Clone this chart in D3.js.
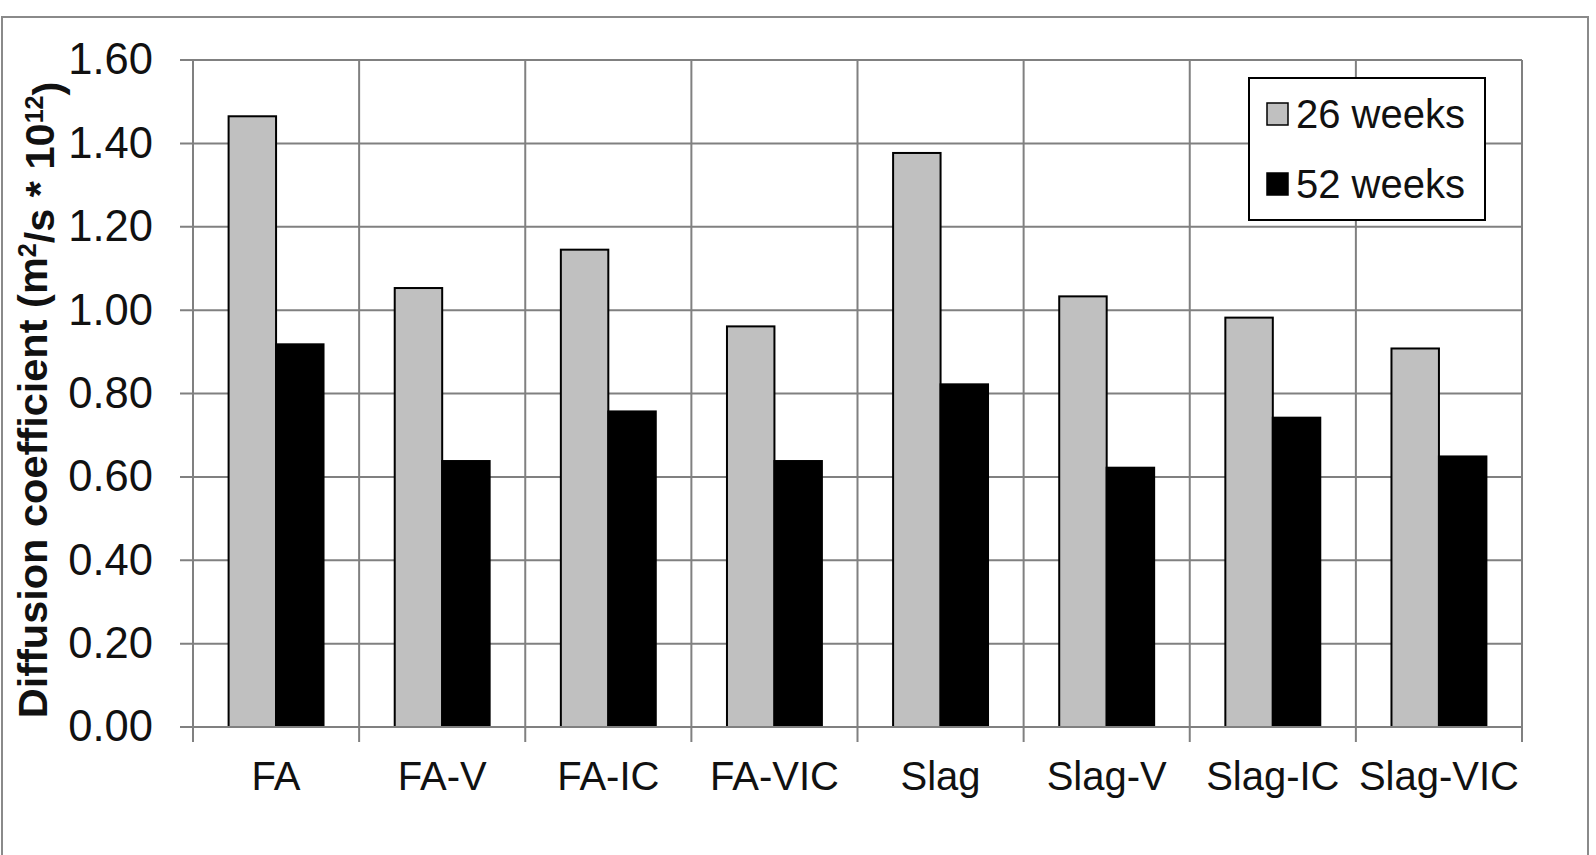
<!DOCTYPE html>
<html>
<head>
<meta charset="utf-8">
<script src="https://cdn.jsdelivr.net/npm/d3@7"></script>
<style>
  html, body { margin: 0; padding: 0; background: #fff; }
  svg { display: block; }
  text { font-family: Arial, "Liberation Sans", sans-serif; fill: #111; }
</style>
</head>
<body>
<svg id="chart" width="1596" height="855"></svg>
<script>
const categories = ["FA", "FA-V", "FA-IC", "FA-VIC", "Slag", "Slag-V", "Slag-IC", "Slag-VIC"];
const seriesNames = ["26 weeks", "52 weeks"];
const weeks26 = [1.465, 1.053, 1.145, 0.961, 1.377, 1.033, 0.982, 0.908];
const weeks52 = [0.918, 0.638, 0.757, 0.638, 0.822, 0.622, 0.742, 0.649];
const yTicks = [0, 0.2, 0.4, 0.6, 0.8, 1.0, 1.2, 1.4, 1.6];
const seriesColors = ["#c0c0c0", "#000000"];

const svg = d3.select("#chart");
const plotL = 193, plotR = 1522, plotT = 60, plotB = 727;

// outer frame
svg.append("rect").attr("x", 2).attr("y", 17).attr("width", 1586).attr("height", 860)
  .attr("fill", "none").attr("stroke", "#8a8a8a").attr("stroke-width", 2);

const x = d3.scaleBand().domain(categories).range([plotL, plotR]).paddingInner(0).paddingOuter(0);
const xs = d3.scaleBand().domain(seriesNames).range([0, x.bandwidth()]).paddingInner(0).paddingOuter(0.75);
const y = d3.scaleLinear().domain([0, 1.6]).range([plotB, plotT]);

const gridColor = "#808080";

// horizontal gridlines (with outside tick)
svg.append("g").selectAll("line").data(yTicks).join("line")
  .attr("x1", plotL - 13).attr("x2", plotR)
  .attr("y1", d => y(d)).attr("y2", d => y(d))
  .attr("stroke", gridColor).attr("stroke-width", 2);

// vertical gridlines at category boundaries (with tick below axis)
const bounds = categories.map(c => x(c)).concat([x.range()[1]]);
svg.append("g").selectAll("line").data(bounds).join("line")
  .attr("x1", d => d).attr("x2", d => d)
  .attr("y1", plotT).attr("y2", plotB + 15)
  .attr("stroke", gridColor).attr("stroke-width", 2);

// y axis labels
const yAxis = d3.axisLeft(y).tickValues(yTicks).tickFormat(d3.format(".2f")).tickSize(0).tickPadding(40);
const gy = svg.append("g").attr("transform", `translate(${plotL},0)`).call(yAxis);
gy.select(".domain").remove();
gy.selectAll("text").style("font-size", "43.5px").style("font-family", "Arial, 'Liberation Sans', sans-serif").attr("fill", "#111");

// x axis labels
const xAxis = d3.axisBottom(x).tickSize(0).tickPadding(0);
const gx = svg.append("g").attr("transform", `translate(0,${plotB})`).call(xAxis);
gx.select(".domain").remove();
gx.selectAll("text").style("font-size", "40px").style("font-family", "Arial, 'Liberation Sans', sans-serif")
  .attr("fill", "#111").attr("dy", null).attr("y", 63);

// bars
const data = categories.map((c, i) => ({ cat: c, values: [weeks26[i], weeks52[i]] }));
const groups = svg.append("g").selectAll("g").data(data).join("g")
  .attr("transform", d => `translate(${x(d.cat)},0)`);
groups.selectAll("rect").data(d => d.values.map((v, j) => ({ s: seriesNames[j], v, j })))
  .join("rect")
  .attr("x", d => xs(d.s))
  .attr("width", xs.bandwidth())
  .attr("y", d => y(d.v))
  .attr("height", d => y(0) - y(d.v))
  .attr("fill", d => seriesColors[d.j])
  .attr("stroke", "#000").attr("stroke-width", 2);

// x axis line on top of bars
svg.append("line").attr("x1", plotL).attr("x2", plotR).attr("y1", plotB).attr("y2", plotB)
  .attr("stroke", gridColor).attr("stroke-width", 2);

// y title
const title = svg.append("text")
  .attr("transform", `translate(47,400) rotate(-90)`)
  .attr("text-anchor", "middle")
  .style("font-size", "41.5px").style("font-weight", "bold");
title.append("tspan").text("Diffusion coefficient (m");
title.append("tspan").attr("dy", "-0.45em").style("font-size", "25px").text("2");
title.append("tspan").attr("dy", "0.45em").text("/s * 10");
title.append("tspan").attr("dy", "-0.45em").style("font-size", "25px").text("12");
title.append("tspan").attr("dy", "0.45em").text(")");

// legend
const lg = svg.append("g");
lg.append("rect").attr("x", 1249).attr("y", 78).attr("width", 236).attr("height", 142)
  .attr("fill", "#fff").attr("stroke", "#000").attr("stroke-width", 2);
const items = lg.selectAll("g.item").data(seriesNames).join("g").attr("class", "item")
  .attr("transform", (d, i) => `translate(1267,${114 + i * 70})`);
items.append("rect").attr("x", 0).attr("y", -11).attr("width", 21).attr("height", 22)
  .attr("fill", (d, i) => seriesColors[i]).attr("stroke", "#000").attr("stroke-width", 1.5);
items.append("text").attr("x", 29).attr("y", 14).style("font-size", "40px").text(d => d);
</script>
</body>
</html>
